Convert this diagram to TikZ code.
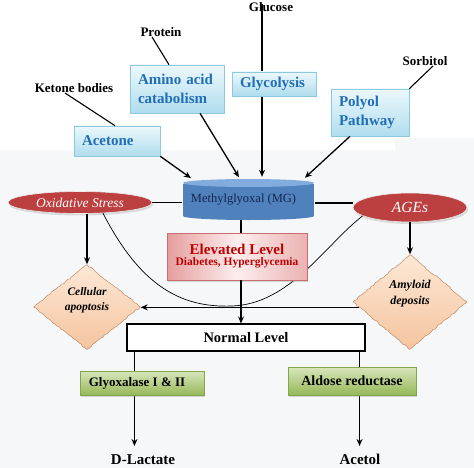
\documentclass[tikz,border=0pt]{standalone}
\usepackage{fontspec}
\setmainfont{Liberation Serif}
\usetikzlibrary{shapes.geometric,arrows.meta,shadows,decorations.pathmorphing}
\definecolor{bluetxt}{RGB}{33,110,184}
\definecolor{bluefillA}{RGB}{236,248,252}
\definecolor{bluefillB}{RGB}{176,221,238}
\definecolor{blueborder}{RGB}{140,200,222}
\definecolor{mgbody}{RGB}{79,129,189}
\definecolor{mgtop}{RGB}{130,172,222}
\definecolor{mgtext}{RGB}{22,36,78}
\definecolor{redell}{RGB}{188,64,64}
\definecolor{peachA}{RGB}{253,232,214}
\definecolor{peachB}{RGB}{245,196,158}
\definecolor{peachedge}{RGB}{190,140,100}
\definecolor{pinkA}{RGB}{253,238,238}
\definecolor{pinkB}{RGB}{230,158,158}
\definecolor{pinkedge}{RGB}{200,110,110}
\definecolor{redtxt}{RGB}{192,0,0}
\definecolor{greenA}{RGB}{216,230,188}
\definecolor{greenB}{RGB}{150,184,88}
\definecolor{greenedge}{RGB}{130,165,80}
\definecolor{bggray}{RGB}{246,247,248}
\begin{document}
\begin{tikzpicture}[x=1pt,y=-1pt,
  lbl/.style={font=\fontsize{13}{15}\selectfont\bfseries, inner sep=0pt},
  bluebox/.style={draw=blueborder, line width=0.6pt, top color=bluefillA, bottom color=bluefillB,
    text=bluetxt, font=\fontsize{15}{19}\selectfont\bfseries, align=left, inner xsep=8pt, inner ysep=0pt,
    drop shadow={opacity=0.3, shadow xshift=1pt, shadow yshift=-1.5pt}},
  redellipse/.style={ellipse, fill=redell, draw=white!85!gray, line width=0.6pt, text=white, inner sep=0pt,
    drop shadow={opacity=0.25, shadow xshift=1pt, shadow yshift=-2pt}},
  diam/.style={diamond, inner sep=0pt, top color=peachA, bottom color=peachB, draw=peachedge, line width=0.5pt,
    decorate, decoration={random steps, segment length=2.5pt, amplitude=0.7pt}},
  diamtext/.style={font=\fontsize{11.5}{15.5}\selectfont\bfseries\itshape, align=center, inner sep=0pt},
  greenbox/.style={draw=greenedge, line width=0.6pt, top color=greenA, bottom color=greenB, inner sep=0pt,
    font=\bfseries, drop shadow={opacity=0.3, shadow xshift=1pt, shadow yshift=-1.5pt}},
  arr/.style={line width=1.3pt, -{Stealth[length=7pt,width=6pt]}},
  conn/.style={line width=1.1pt},
  thinline/.style={line width=0.7pt}
]
\useasboundingbox (0,0) rectangle (474,468);
\fill[white] (0,0) rectangle (474,468);
\fill[bggray] (0,150) rectangle (474,468);
\fill[bggray] (395,138) rectangle (474,150);

% top labels
\node[lbl, anchor=base] (glucose) at (271,12) {Glucose};
\node[lbl, anchor=base] (protein) at (161,37) {Protein};
\node[lbl, anchor=base] (ketone) at (74,93) {Ketone bodies};
\node[lbl, anchor=base] (sorb) at (425,66) {Sorbitol};

% MG cylinder
\fill[mgbody] (183,184) rectangle (314,216);
\fill[mgbody] (248.5,216) ellipse [x radius=65.5, y radius=4];
\fill[mgtop] (248.5,183) ellipse [x radius=65.5, y radius=4];
\node[font=\fontsize{12.5}{14}\selectfont, text=mgtext, minimum width=132pt, minimum height=40pt, inner sep=0pt] (mg) at (248.5,200) {\hspace*{-10pt}Methylglyoxal (MG)};

% glucose line (behind glycolysis box)
\coordinate (gl) at ([xshift=-9pt,yshift=-1pt]glucose.north);
\draw[arr, shorten >=3pt] (gl) -- (gl |- mg.north);

% blue boxes
\node[bluebox, text width=78pt, minimum height=48pt] (amino) at (177,89) {Amino acid\\catabolism};
\node[bluebox, text width=68pt, minimum height=24pt] (glyc) at (274,84) {Glycolysis};
\node[bluebox, text width=62pt, minimum height=47pt] (polyol) at (370,112.5) {Polyol\\Pathway};
\node[bluebox, text width=70pt, minimum height=30pt] (acet) at (117,141) {Acetone};

% thin source lines
\draw[conn] ([xshift=-9pt]protein.base) -- ([xshift=-8pt]amino.north);
\draw[conn] ([xshift=-9pt]ketone.base) -- ([xshift=-2pt]acet.north);
\draw[conn] ([xshift=8pt]sorb.base) -- (polyol.north east);

% arrows into MG
\draw[arr, shorten >=3pt] (acet.south east) -- ([xshift=11pt]mg.north west);
\draw[arr, shorten >=3pt] ([xshift=23pt]amino.south) -- ([xshift=-8pt]mg.north);
\draw[arr, shorten >=3pt] ([xshift=-20pt]polyol.south) -- ([xshift=-12pt]mg.north east);

% ellipses
\node[redellipse, minimum width=144pt, minimum height=22pt, font=\fontsize{13.5}{15}\selectfont\itshape] (ox) at (80,202.5) {Oxidative Stress};
\node[redellipse, minimum width=114pt, minimum height=29pt, font=\fontsize{15.5}{17}\selectfont\itshape] (ages) at (410,207.5) {AGEs};
\draw[conn] (ox.east) -- (ox.east -| mg.west);
\draw[conn] (mg.east |- 0,203) -- (353,203);

% diamonds
\node[diam, minimum width=107pt, minimum height=85pt] (apo) at (87,307) {};
\node[diamtext] (apot) at ([yshift=7pt]apo.center) {Cellular\\apoptosis};
\node[diam, minimum width=114pt, minimum height=95pt] (amy) at (410,302) {};
\node[diamtext, font=\fontsize{12}{16}\selectfont\bfseries\itshape] (amyt) at ([yshift=8pt]amy.center) {Amyloid\\deposits};

% curves (behind elevated box)
\coordinate (cb) at (232,306);
\draw[thinline] (ox.-25) .. controls (140,285) and (180,308) .. (cb) .. controls (290,304) and (325,245) .. (ages.190);

% axis
\coordinate (ax) at (241,0);

% elevated level
\draw[conn] (mg.south -| ax) -- (241,233);
\node[draw=pinkedge, line width=0.6pt, left color=pinkB, right color=pinkB!80!white, middle color=pinkA,
  minimum width=140pt, minimum height=47pt, inner sep=0pt, align=center, text=redtxt,
  drop shadow={opacity=0.3, shadow xshift=1pt, shadow yshift=-1.5pt}] (elev) at (237,256.5)
  {{\fontsize{15}{16}\selectfont\bfseries Elevated Level}\\[-1pt]{\fontsize{11.5}{13}\selectfont\bfseries Diabetes, Hyperglycemia}};

% vertical arrows
\draw[arr] (apo.north |- ox.south) -- (apo.north);
\draw[arr] (amy.north |- ages.south) -- (amy.north);
\draw[arr] (amy.186) -- (amy.186 -| apo.east);

% normal level
\node[draw, line width=1.1pt, fill=white, minimum width=238pt, minimum height=27pt, inner sep=0pt,
  font=\fontsize{14.5}{16}\selectfont\bfseries] (normal) at (246,337.5) {Normal Level};
\draw[arr] (elev.south -| ax) -- (normal.north -| ax);

% products
\node[font=\fontsize{15}{17}\selectfont\bfseries, anchor=base, inner sep=0pt] (dlac) at (143,464) {D-Lactate};
\node[font=\fontsize{15}{17}\selectfont\bfseries, anchor=base, inner sep=0pt] (acetol) at (360,464) {Acetol};
\coordinate (nl) at ([xshift=8pt]normal.south west);
\coordinate (nr) at ([xshift=-6pt]normal.south east);
\draw[arr] (nl) -- (nl |- 0,446);
\draw[arr] (nr) -- (nr |- 0,446);

% green boxes
\node[greenbox, minimum width=124pt, minimum height=24pt, font=\fontsize{13}{15}\selectfont\bfseries] (glyox) at (142,383) {\hspace*{-10pt}Glyoxalase I \& II};
\node[greenbox, minimum width=128pt, minimum height=28pt, font=\fontsize{14}{16}\selectfont\bfseries] (aldose) at (352,381) {Aldose reductase};
\end{tikzpicture}
\end{document}
